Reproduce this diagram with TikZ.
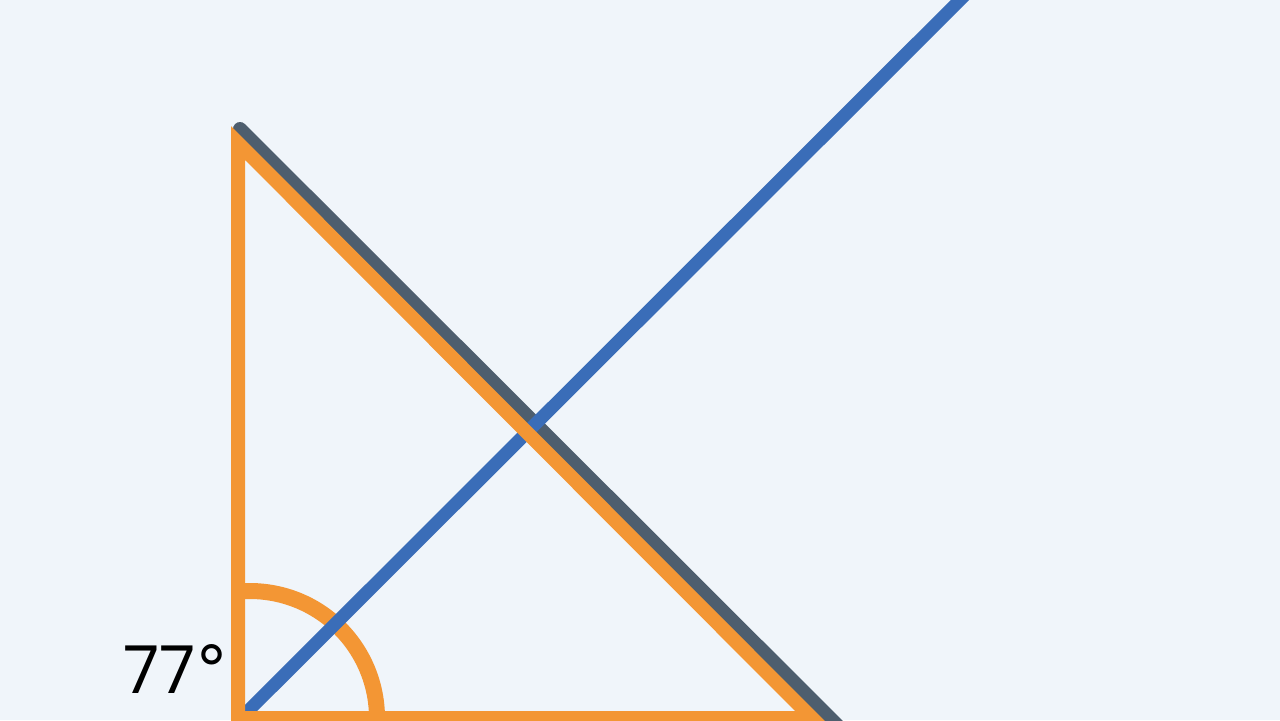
\documentclass[tikz,border=0pt]{standalone}
\usepackage{fontspec}
\setmainfont{Poppins}
\newfontfamily\degfont{DejaVu Sans}
\usepackage{xcolor}
\definecolor{bgcol}{HTML}{F0F5FA}
\definecolor{orangeside}{HTML}{F39634}
\definecolor{blueline}{HTML}{3A6DB8}
\definecolor{grayside}{HTML}{4E5E6E}

\begin{document}
\begin{tikzpicture}[x=0.5pt, y=-0.5pt, line width=7pt, line cap=round,
    side/.style={draw=orangeside},
    shadow/.style={draw=grayside},
    ray/.style={draw=blueline, line width=6.5pt},
    anglemark/.style={draw=orangeside, line width=8pt, line cap=butt}]

    \fill[bgcol] (0,0) rectangle (1280,720);
    \useasboundingbox (0,0) rectangle (1280,720);

    \coordinate (A) at (238,143);
    \coordinate (B) at (238,718);
    \coordinate (C) at (812,718);
    \coordinate (Atop) at (240,129);
    \coordinate (Cend) at (842,730);
    \coordinate (R) at (245,714);
    \coordinate (Rend) at (975,-15);

    \draw[shadow] (Atop) -- (Cend);
    \draw[anglemark] (377,718) arc[start angle=0, end angle=-96, radius=127];
    \draw[ray] (R) -- (Rend);
    \draw[side] (A) -- (B) -- (C) -- cycle;

    \node[anchor=base east, inner sep=0pt, font=\fontsize{33}{33}\selectfont] (lbl) at (236,693) {77\raisebox{0pt}{\degfont °}};
\end{tikzpicture}
\end{document}
